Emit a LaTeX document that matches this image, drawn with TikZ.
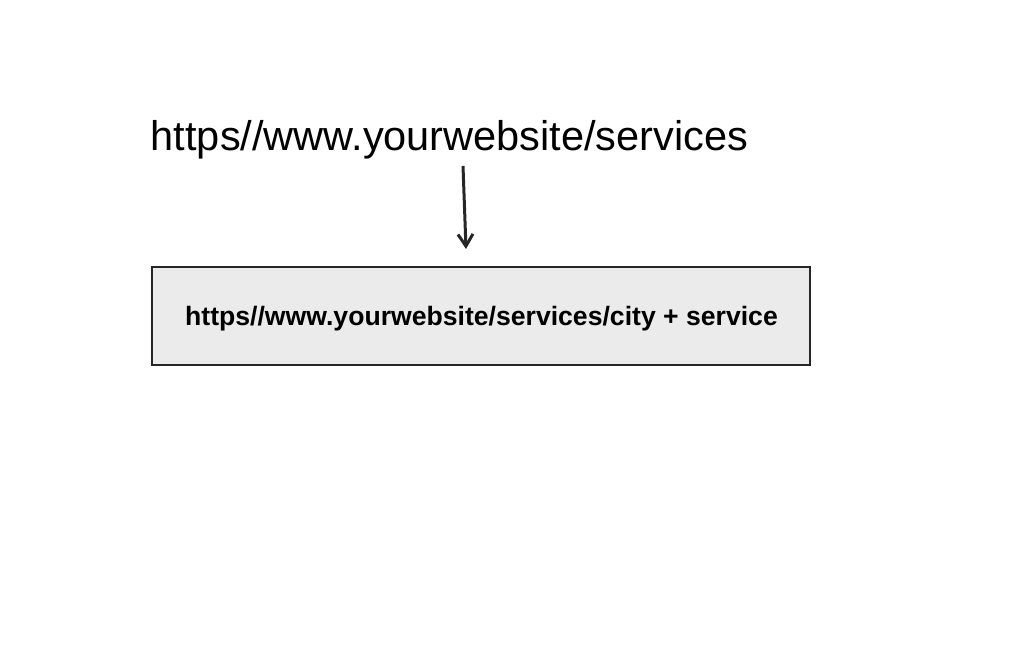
\documentclass[tikz,border=0pt]{standalone}
\usepackage{fontspec}
\setmainfont{Liberation Sans}
\usetikzlibrary{arrows.meta}
\definecolor{inkc}{HTML}{262626}
\definecolor{boxfill}{HTML}{EBEBEB}
\tikzset{
  urltext/.style={inner sep=0pt, text=black, font=\fontsize{41.5}{48}\selectfont},
  urlbox/.style={draw=inkc, fill=boxfill, line width=2.8pt, minimum width=658pt, minimum height=98pt, inner sep=0pt},
  boxtext/.style={inner sep=0pt, text=black, font=\fontsize{26.6}{30}\selectfont\bfseries},
  flow/.style={draw=inkc, line width=3pt, -{Straight Barb[length=12pt,width=15pt,line width=3pt]}}
}
\begin{document}
\begin{tikzpicture}[x=1pt,y=-1pt]
\useasboundingbox (0,0) rectangle (1011,652);
\node[urltext, anchor=base] (url) at (449.5,151) {https//www.yourwebsite/services};
\node[urlbox] (box) at (481,316) {};
\node[boxtext, anchor=base] (boxlabel) at (481.5,325) {https//www.yourwebsite/services/city + service};
\coordinate (arrowstart) at (463,166);
\coordinate (arrowend) at (466,249);
\draw[flow] (arrowstart) -- (arrowend);
\end{tikzpicture}
\end{document}
